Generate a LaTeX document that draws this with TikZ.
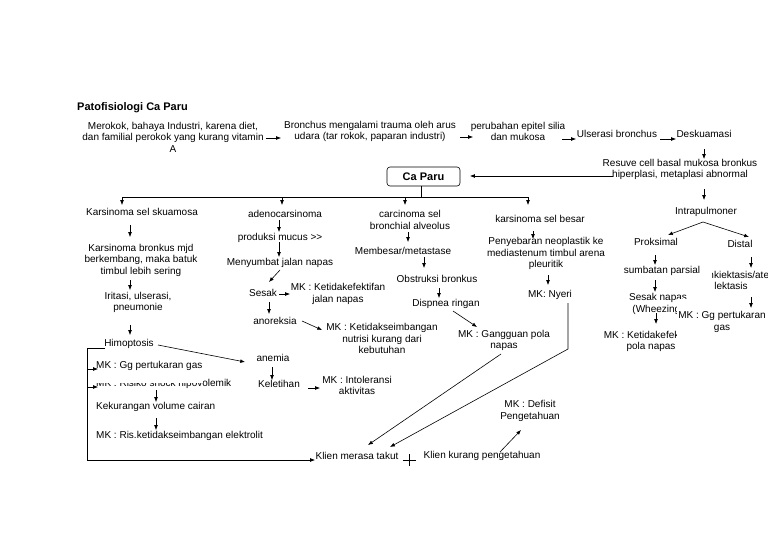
\documentclass[tikz,border=0pt]{standalone}
\usepackage{fontspec}
\setmainfont{Liberation Sans}
\usetikzlibrary{arrows.meta}
\begin{document}
\begin{tikzpicture}[x=1pt,y=-1pt,
  txt/.style={font=\fontsize{10}{11.5}\selectfont, inner sep=1pt, align=center},
  ltxt/.style={font=\fontsize{10}{11.5}\selectfont, inner sep=1pt, anchor=base west},
  arr/.style={-{Latex[length=4.8pt,width=3.8pt]}, line width=0.6pt},
  ln/.style={line width=0.6pt}]
\useasboundingbox (0,0) rectangle (768,543);
% ---- title and top row
\node[anchor=west, font=\fontsize{11}{13}\selectfont\bfseries, inner sep=0pt] (title) at (77,108) {Patofisiologi Ca Paru};
\node[txt] (n1) at (173,137) {Merokok, bahaya Industri, karena diet,\\dan familial perokok yang kurang vitamin\\A};
\node[txt] (n2) at (370,131.5) {Bronchus mengalami trauma oleh arus\\udara (tar rokok, paparan industri)};
\node[txt] (n3) at (518,131.5) {perubahan epitel silia\\dan mukosa};
\node[txt] (n4) at (617,134) {Ulserasi bronchus};
\node[txt] (n5) at (704,134) {Deskuamasi};
\node[txt] (n6) at (680,169.5) {Resuve cell basal mukosa bronkus\\hiperplasi, metaplasi abnormal};
\node[txt, font=\fontsize{11}{13}\selectfont\bfseries, draw, line width=0.6pt, rounded corners=3pt, minimum width=73, minimum height=19] (capa) at (423.5,176.5) {Ca Paru};
% ---- right branch
\node[txt] (n7) at (706,212) {Intrapulmoner};
\node[txt] (prok) at (656,242) {Proksimal};
\node[txt] (dist) at (740,244) {Distal};
\node[txt] (bk) at (731,280.5) {Bronkiektasis/ate\\lektasis};
\node[txt, fill=white, minimum width=100, inner ysep=3pt] (sumb) at (662,271) {sumbatan parsial};
\node[txt] (wh) at (658,304) {Sesak napas\\(Wheezing)};
\node[txt] (mkkp) at (651,341.5) {MK : Ketidakefektifan\\pola napas};
\node[txt, fill=white, inner ysep=12.5pt] (mkgg2) at (722,322) {MK : Gg pertukaran\\gas};
% ---- column 1
\node[txt] (sku) at (142,212) {Karsinoma sel skuamosa};
\node[txt] (bronk) at (141,260) {Karsinoma bronkus mjd\\berkembang, maka batuk\\timbul lebih sering};
\node[txt] (irit) at (138,302.5) {Iritasi, ulserasi,\\pneumonie};
\node[txt] (himo) at (129,344) {Himoptosis};
\node[ltxt] (risk) at (95,386.5) {MK : Risiko shock hipovolemik};
\node[ltxt, fill=white, text depth=13pt] (mkgg1) at (95,368.5) {MK : Gg pertukaran gas};
\node[ltxt] (kek) at (95,409.5) {Kekurangan volume cairan};
\node[ltxt] (mkris) at (95,438.5) {MK : Ris.ketidakseimbangan elektrolit};
% ---- column 2
\node[txt] (adeno) at (285,214) {adenocarsinoma};
\node[txt] (prod) at (280,238) {produksi mucus {>}{>}};
\node[txt] (meny) at (280,263) {Menyumbat jalan napas};
\node[txt] (sesak) at (263,293) {Sesak};
\node[txt] (mkke) at (338,294) {MK : Ketidakefektifan\\jalan napas};
\node[txt] (anor) at (275,321) {anoreksia};
\node[txt] (mknut) at (382,338.5) {MK : Ketidakseimbangan\\nutrisi kurang dari\\kebutuhan};
\node[txt] (anemia) at (273,358) {anemia};
\node[txt] (kelet) at (279,384) {Keletihan};
\node[txt] (mkint) at (357,385.5) {MK : Intoleransi\\aktivitas};
% ---- column 3
\node[txt] (carc) at (410,220) {carcinoma sel\\bronchial alveolus};
\node[txt] (memb) at (403,251) {Membesar/metastase};
\node[txt] (obs) at (437,279) {Obstruksi bronkus};
\node[txt] (disp) at (446,304) {Dispnea ringan};
\node[txt] (mkgp) at (504,340.5) {MK : Gangguan pola\\napas};
% ---- column 4
\node[txt] (besar) at (540,219) {karsinoma sel besar};
\node[txt] (peny) at (546,253.5) {Penyebaran neoplastik ke\\mediastenum timbul arena\\pleuritik};
\node[txt] (nyeri) at (550,295) {MK: Nyeri};
% ---- bottom
\node[txt] (klien1) at (357,456) {Klien merasa takut};
\node[txt] (klien2) at (482,456) {Klien kurang pengetahuan};
\node[txt] (mkdef) at (530,411) {MK : Defisit\\Pengetahuan};
\draw[ln] (403,460) -- (416,460) (409,454) -- (409,466);
% ---- connectors: top row
\draw[arr] ([shift={(93,1)}]n1.center) -- ([shift={(-89,6.5)}]n2.center);
\draw[arr] ([shift={(90,5.5)}]n2.center) -- ([shift={(-45,5.5)}]n3.center);
\draw[arr] ([shift={(44,7.5)}]n3.center) -- ([shift={(-41,5)}]n4.center);
\draw[arr] ([shift={(43,5)}]n4.center) -- ([shift={(-28,5)}]n5.center);
\draw[arr] ([shift={(0,15)}]n5.center) -- ([shift={(24,-10.5)}]n6.center);
\draw[arr] ([shift={(-67,6.5)}]n6.center) -- ([shift={(46.5,-0.5)}]capa.center);
\draw[arr] ([shift={(24,19.5)}]n6.center) -- ([shift={(-2,-12)}]n7.center);
\draw[arr] ([shift={(-3,10)}]n7.center) -- ([shift={(12,-7)}]prok.center);
\draw[arr] ([shift={(-3,10)}]n7.center) -- ([shift={(9,-7)}]dist.center);
\draw[arr] ([shift={(-1,13)}]prok.center) -- ([shift={(-7,-6)}]sumb.center);
\draw[arr] ([shift={(-7,9)}]sumb.center) -- ([shift={(-3,-12)}]wh.center);
\draw[arr] ([shift={(11,13)}]dist.center) -- ([shift={(20,-12.5)}]bk.center);
\draw[arr] ([shift={(20,16.5)}]bk.center) -- ([shift={(29,-14)}]mkgg2.center);
\draw[arr] ([shift={(-2,9)}]wh.center) -- ([shift={(5,-17.5)}]mkkp.center);
% ---- Ca Paru bus
\draw[arr] ([shift={(-2.5,9.5)}]capa.center) -- ([shift={(-2.5,20.5)}]capa.center) -| ([shift={(-20,-7)}]sku.center);
\draw[arr] ([shift={(-2.5,20.5)}]capa.center) -| ([shift={(-3,-9)}]adeno.center);
\draw[arr] ([shift={(-2.5,20.5)}]capa.center) -| ([shift={(-5,-15)}]carc.center);
\draw[arr] ([shift={(-2.5,20.5)}]capa.center) -| ([shift={(-12,-14)}]besar.center);
% ---- column 1
\draw[arr] ([shift={(-12,13)}]sku.center) -- ([shift={(-11,-23)}]bronk.center);
\draw[arr] ([shift={(-11,20)}]bronk.center) -- ([shift={(-8,-12.5)}]irit.center);
\draw[arr] ([shift={(-8,22.5)}]irit.center) -- ([shift={(1,-9)}]himo.center);
\draw[arr] ([shift={(29,1)}]himo.center) -- ([shift={(-28,4)}]anemia.center);
\draw[arr] ([shift={(-24,4)}]himo.center) -| ([shift={(-42,116)}]himo.center) -- ([shift={(-42,4)}]klien1.center);
\draw[arr] ([shift={(-8,0.5)}]mkgg1.base west) -- ([shift={(3,0.5)}]mkgg1.base west);
\draw[arr] ([shift={(-8,0.5)}]risk.base west) -- ([shift={(3,0.5)}]risk.base west);
\draw[arr] ([shift={(61,3.5)}]risk.base west) -- ([shift={(61,-7.5)}]kek.base west);
\draw[arr] ([shift={(61,8.5)}]kek.base west) -- ([shift={(61,-8.5)}]mkris.base west);
% ---- column 2
\draw[arr] ([shift={(-6,6)}]adeno.center) -- ([shift={(-1,-6)}]prod.center);
\draw[arr] ([shift={(-1,4)}]prod.center) -- ([shift={(-1,-6)}]meny.center);
\draw[arr] ([shift={(0,7)}]meny.center) -- ([shift={(6,-11)}]sesak.center);
\draw[arr] ([shift={(16,1)}]sesak.center) -- ([shift={(-48,0)}]mkke.center);
\draw[arr] ([shift={(6,9)}]sesak.center) -- ([shift={(-6,-7)}]anor.center);
\draw[arr] ([shift={(27,0)}]anor.center) -- ([shift={(-60,-8.5)}]mknut.center);
\draw[arr] ([shift={(-1,9)}]anemia.center) -- ([shift={(-7,-4)}]kelet.center);
\draw[arr] ([shift={(29,4)}]kelet.center) -- ([shift={(-37,2.5)}]mkint.center);
% ---- column 3
\draw[arr] ([shift={(-2,12)}]carc.center) -- ([shift={(5,-9)}]memb.center);
\draw[arr] ([shift={(21,6)}]memb.center) -- ([shift={(-13,-11)}]obs.center);
\draw[arr] ([shift={(2,9)}]obs.center) -- ([shift={(-7,-6)}]disp.center);
\draw[arr] ([shift={(7,7)}]disp.center) -- ([shift={(-27,-13.5)}]mkgp.center);
% ---- column 4
\draw[arr] ([shift={(-7,12)}]besar.center) -- ([shift={(-13,-14.5)}]peny.center);
\draw[arr] ([shift={(2,21.5)}]peny.center) -- ([shift={(-2,-10)}]nyeri.center);
\draw[arr] ([shift={(18,8)}]nyeri.center) -- ([shift={(18,54)}]nyeri.center) -- ([shift={(33,-9)}]klien1.center);
\draw[arr] ([shift={(-3,13.5)}]mkgp.center) -- ([shift={(11,-11)}]klien1.center);
\draw[arr] ([shift={(18,-4)}]klien2.center) -- ([shift={(-9,19)}]mkdef.center);
\end{tikzpicture}
\end{document}
